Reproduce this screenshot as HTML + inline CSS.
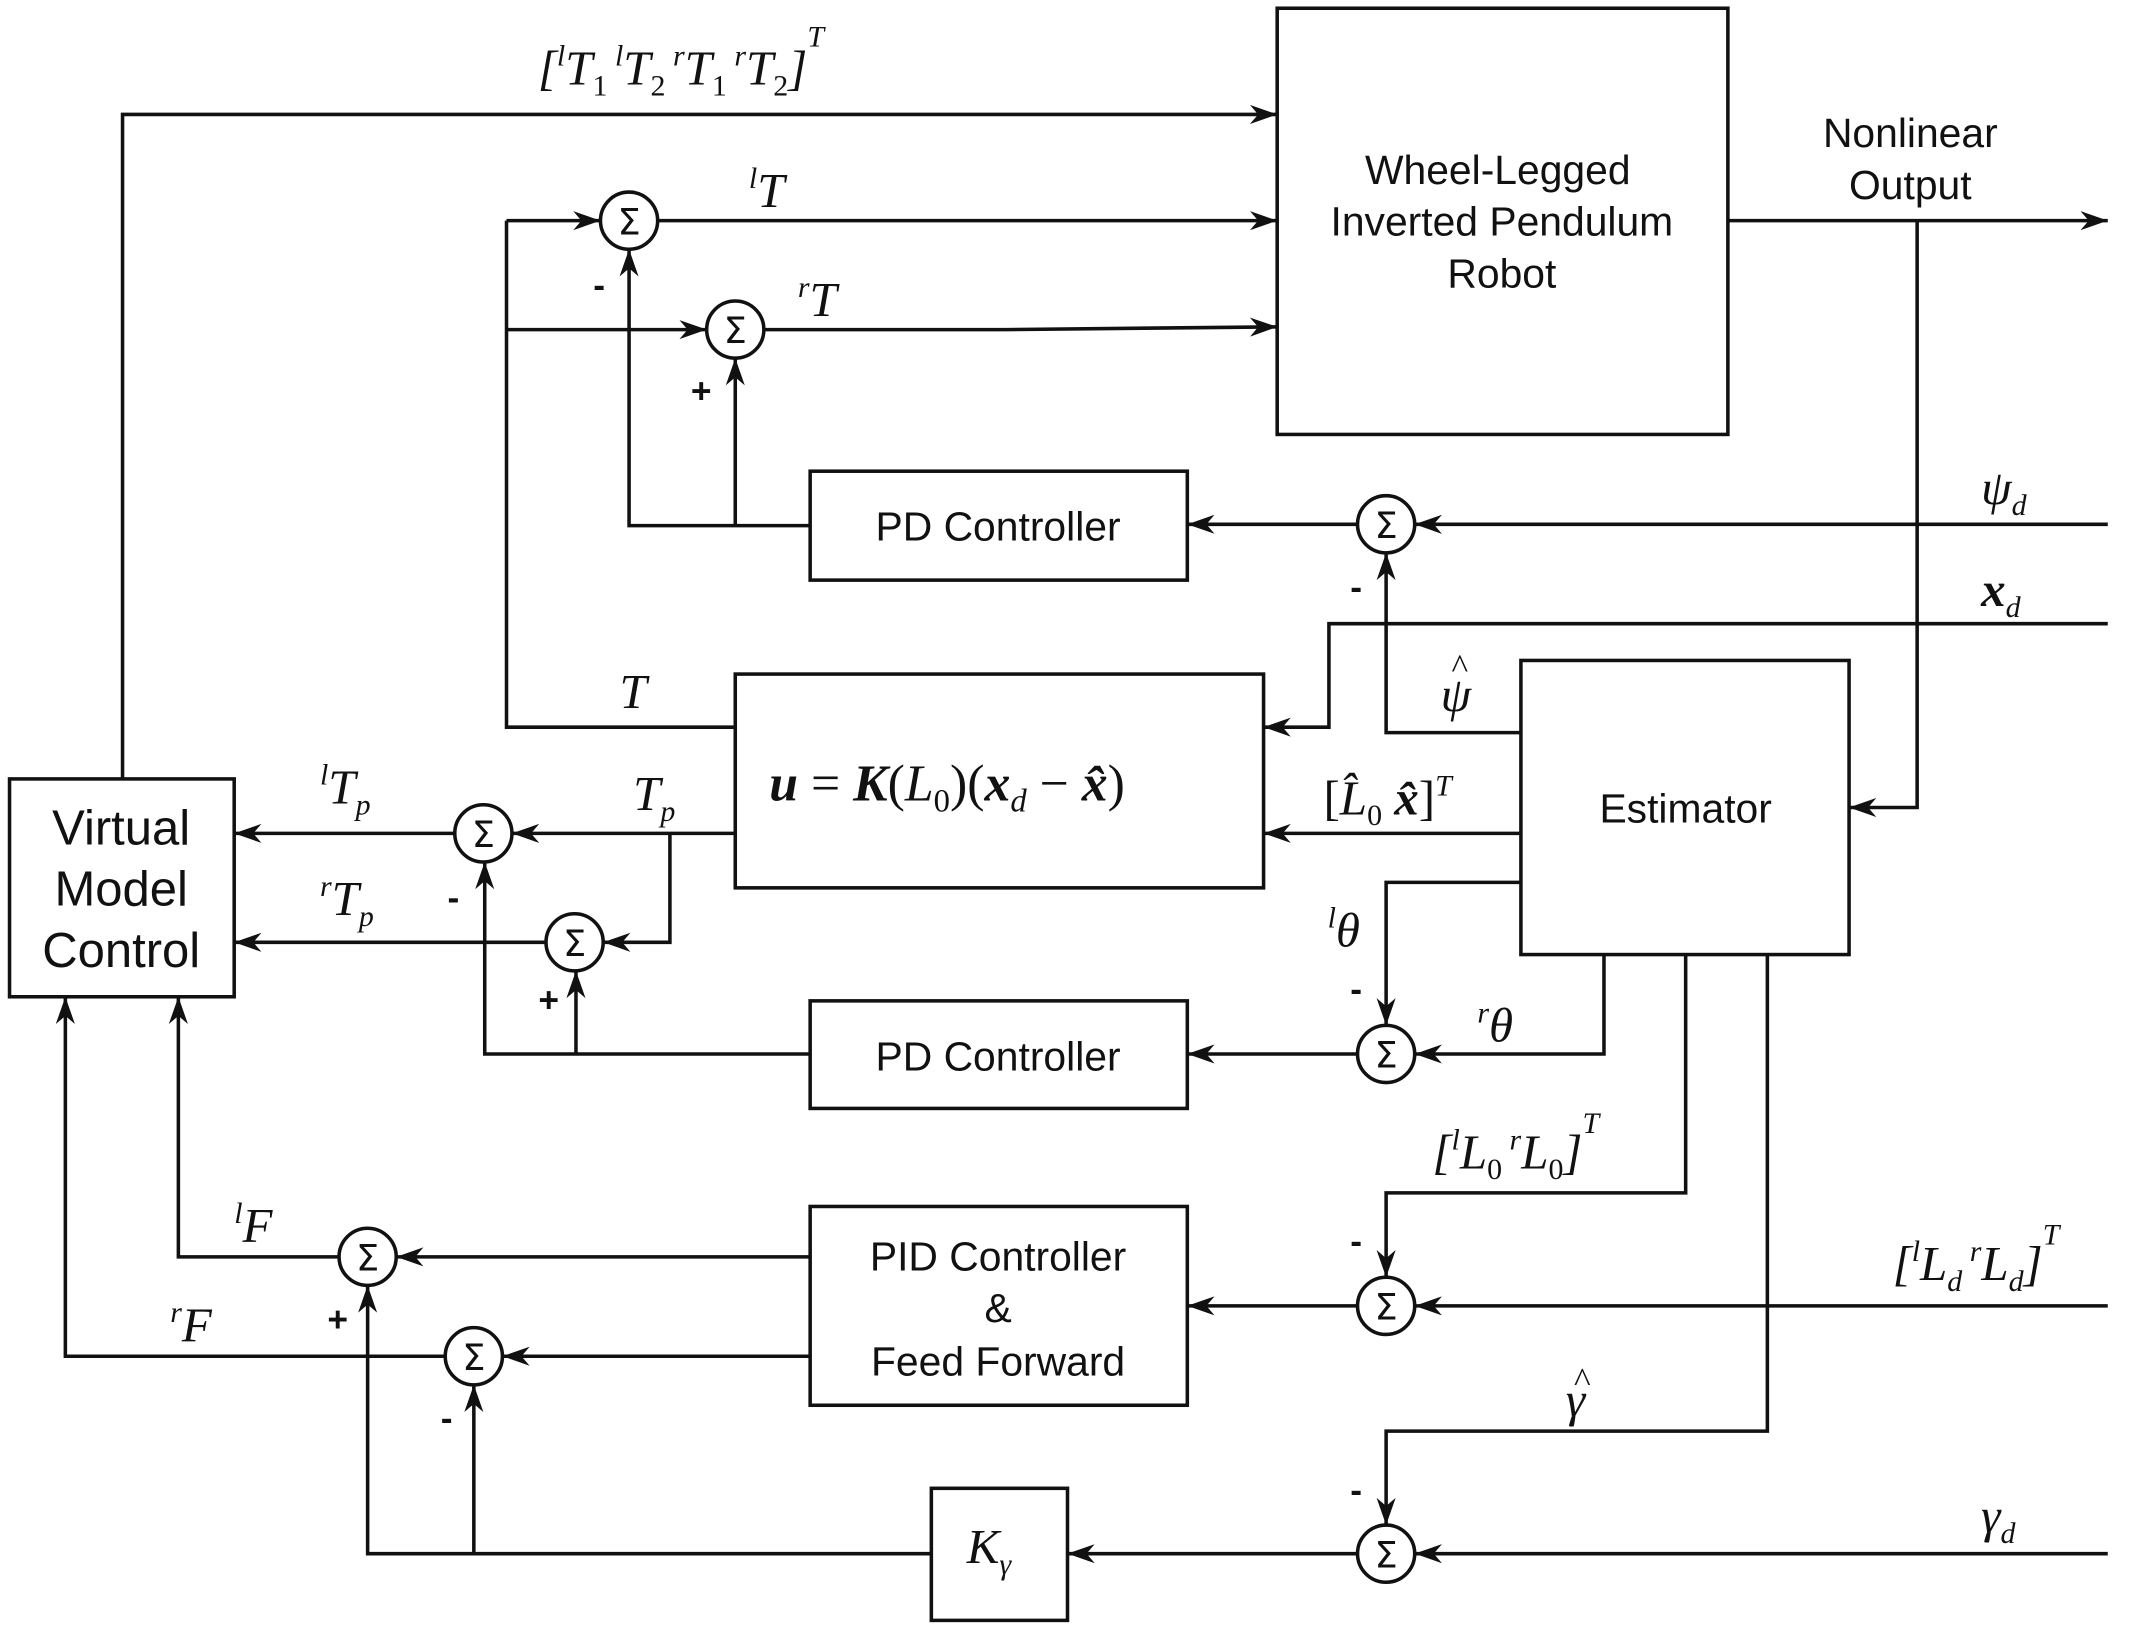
<!DOCTYPE html>
<html><head><meta charset="utf-8"><style>
html,body{margin:0;padding:0;background:#fff;}
svg{display:block;}
.s{font-family:"Liberation Sans",sans-serif;font-size:30px;fill:#111;}
.m{font-family:"Liberation Serif",serif;font-style:italic;font-size:36px;fill:#111;}
.p{font-family:"Liberation Sans",sans-serif;font-size:26px;font-weight:bold;fill:#111;}
.sg{font-family:"DejaVu Sans",sans-serif;font-size:27px;fill:#111;}
</style></head><body>
<svg width="2135" height="1630" viewBox="0 0 1568 1197" xmlns="http://www.w3.org/2000/svg">
<defs><marker id="a" viewBox="0 0 20 14" refX="20" refY="7" markerWidth="20" markerHeight="14" markerUnits="userSpaceOnUse" orient="auto"><path d="M0,0 L20,7 L0,14 L6,7 Z" fill="#111"/></marker></defs>
<g fill="none" stroke="#111" stroke-width="2.6">
<rect x="938" y="6" width="331" height="313"/>
<rect x="540" y="495" width="388" height="157"/>
<rect x="7" y="572" width="165" height="160"/>
<rect x="595" y="346" width="277" height="80"/>
<rect x="595" y="735" width="277" height="79"/>
<rect x="595" y="886" width="277" height="146"/>
<rect x="1117" y="485" width="241" height="216"/>
<rect x="684" y="1093" width="100" height="97"/>
<circle cx="462" cy="162" r="21"/><circle cx="540" cy="242" r="21"/>
<circle cx="1018" cy="385" r="21"/><circle cx="355" cy="612" r="21"/>
<circle cx="422" cy="692" r="21"/><circle cx="1018" cy="774" r="21"/>
<circle cx="1018" cy="959" r="21"/><circle cx="270" cy="923" r="21"/>
<circle cx="348" cy="996" r="21"/><circle cx="1018" cy="1141" r="21"/>
</g>
<g fill="none" stroke="#111" stroke-width="2.6" marker-end="url(#a)">
<path d="M90,572 V84 H938"/>
<path d="M372,162 H441"/>
<path d="M483,162 H938"/>
<path d="M372,242 H519"/>
<path d="M561,242 H738 L938,240"/>
<path d="M540,534 H372 V162" marker-end="none"/>
<path d="M595,386 H462 V183"/>
<path d="M540,386 V263"/>
<path d="M1548,385 H1039"/>
<path d="M997,385 H872"/>
<path d="M1117,538 H1018 V406"/>
<path d="M1548,458 H976 V534 H928"/>
<path d="M1269,162 H1548"/>
<path d="M1408,162 V593 H1358"/>
<path d="M1117,612 H928"/>
<path d="M540,612 H376"/>
<path d="M492,612 V692 H443"/>
<path d="M334,612 H172"/>
<path d="M401,692 H172"/>
<path d="M595,774 H356 V633"/>
<path d="M423,774 V713"/>
<path d="M1117,648 H1018 V753"/>
<path d="M1178,701 V774 H1039"/>
<path d="M997,774 H872"/>
<path d="M1238,701 V876 H1018 V938"/>
<path d="M1548,959 H1039"/>
<path d="M997,959 H872"/>
<path d="M595,923 H291"/>
<path d="M595,996 H369"/>
<path d="M249,923 H131 V732"/>
<path d="M327,996 H48 V732"/>
<path d="M1548,1141 H1039"/>
<path d="M1298,701 V1051 H1018 V1120"/>
<path d="M997,1141 H784"/>
<path d="M684,1141 H270 V944"/>
<path d="M348,1141 V1017"/>
</g>
<g class="sg" text-anchor="middle">
<text x="462" y="172">Σ</text><text x="540" y="252">Σ</text><text x="1018" y="395">Σ</text>
<text x="355" y="622">Σ</text><text x="422" y="702">Σ</text><text x="1018" y="784">Σ</text>
<text x="1018" y="969">Σ</text><text x="270" y="933">Σ</text><text x="348" y="1006">Σ</text>
<text x="1018" y="1151">Σ</text>
</g>
<g class="s" text-anchor="middle">
<text x="1100" y="135">Wheel-Legged</text>
<text x="1103" y="173">Inverted Pendulum</text>
<text x="1103" y="211">Robot</text>
<text x="1403" y="108">Nonlinear</text>
<text x="1403" y="146">Output</text>
<text x="733" y="397">PD Controller</text>
<text x="733" y="786">PD Controller</text>
<text x="733" y="933">PID Controller</text>
<text x="733" y="971">&amp;</text>
<text x="733" y="1010">Feed Forward</text>
<text x="1238" y="604">Estimator</text>
<text x="89" y="620" font-size="36">Virtual</text>
<text x="89" y="665" font-size="36">Model</text>
<text x="89" y="710" font-size="36">Control</text>
</g>
<g class="p" text-anchor="middle">
<text x="440" y="218">-</text><text x="515" y="296">+</text>
<text x="996" y="440">-</text><text x="333" y="668">-</text>
<text x="403" y="743">+</text><text x="996" y="735">-</text>
<text x="996" y="920">-</text><text x="248" y="978">+</text>
<text x="328" y="1050">-</text><text x="996" y="1103">-</text>
</g>
<g class="m">
<text x="395" y="62">[<tspan font-size="22" dy="-14">l</tspan><tspan dy="14">T</tspan><tspan font-size="22" font-style="normal" dy="8">1</tspan><tspan font-size="22" dy="-22"> l</tspan><tspan dy="14">T</tspan><tspan font-size="22" font-style="normal" dy="8">2</tspan><tspan font-size="22" dy="-22"> r</tspan><tspan dy="14">T</tspan><tspan font-size="22" font-style="normal" dy="8">1</tspan><tspan font-size="22" dy="-22"> r</tspan><tspan dy="14">T</tspan><tspan font-size="22" font-style="normal" dy="8">2</tspan><tspan dy="-8">]</tspan><tspan font-size="22" dy="-28">T</tspan></text>
<text x="550" y="152"><tspan font-size="22" dy="-14">l</tspan><tspan dy="14">T</tspan></text>
<text x="586" y="232"><tspan font-size="22" dy="-14">r</tspan><tspan dy="14">T</tspan></text>
<text x="455" y="520">T</text>
<text x="1455" y="370">ψ<tspan font-size="22" dy="8">d</tspan></text>
<text x="1455" y="445" font-weight="bold">x<tspan font-size="22" font-weight="normal" dy="8">d</tspan></text>
<text x="1058" y="522">ψ</text><text x="1066" y="498" font-style="normal" font-size="26">^</text>
<text x="972" y="598" font-style="normal">[<tspan font-style="italic">L̂</tspan><tspan font-size="22" dy="8">0</tspan><tspan dy="-8" font-style="italic" font-weight="bold"> x̂</tspan>]<tspan font-size="22" font-style="italic" dy="-14">T</tspan></text>
<text x="465" y="595">T<tspan font-size="22" dy="8">p</tspan></text>
<text x="235" y="590"><tspan font-size="22" dy="-14">l</tspan><tspan dy="14">T</tspan><tspan font-size="22" dy="8">p</tspan></text>
<text x="235" y="672"><tspan font-size="22" dy="-14">r</tspan><tspan dy="14">T</tspan><tspan font-size="22" dy="8">p</tspan></text>
<text x="975" y="695"><tspan font-size="22" dy="-14">l</tspan><tspan dy="14">θ</tspan></text>
<text x="1085" y="765"><tspan font-size="22" dy="-14">r</tspan><tspan dy="14">θ</tspan></text>
<text x="1052" y="858">[<tspan font-size="22" dy="-14">l</tspan><tspan dy="14">L</tspan><tspan font-size="22" font-style="normal" dy="8">0</tspan><tspan font-size="22" dy="-22"> r</tspan><tspan dy="14">L</tspan><tspan font-size="22" font-style="normal" dy="8">0</tspan><tspan dy="-8">]</tspan><tspan font-size="22" dy="-26">T</tspan></text>
<text x="1390" y="940">[<tspan font-size="22" dy="-14">l</tspan><tspan dy="14">L</tspan><tspan font-size="22" dy="8">d</tspan><tspan font-size="22" dy="-22"> r</tspan><tspan dy="14">L</tspan><tspan font-size="22" dy="8">d</tspan><tspan dy="-8">]</tspan><tspan font-size="22" dy="-26">T</tspan></text>
<text x="172" y="912"><tspan font-size="22" dy="-14">l</tspan><tspan dy="14">F</tspan></text>
<text x="125" y="985"><tspan font-size="22" dy="-14">r</tspan><tspan dy="14">F</tspan></text>
<text x="1150" y="1040">γ</text><text x="1156" y="1022" font-style="normal" font-size="26">^</text>
<text x="1455" y="1125">γ<tspan font-size="22" dy="8">d</tspan></text>
<text x="710" y="1148">K<tspan font-size="22" dy="8">γ</tspan></text>
<text x="565" y="588" font-weight="bold" font-size="38">u <tspan font-weight="normal" font-style="normal">=</tspan> K<tspan font-weight="normal" font-style="normal">(</tspan><tspan font-weight="normal">L</tspan><tspan font-weight="normal" font-style="normal" font-size="24" dy="8">0</tspan><tspan font-weight="normal" font-style="normal" dy="-8">)(</tspan>x<tspan font-weight="normal" font-size="24" dy="8">d</tspan><tspan font-weight="normal" font-style="normal" dy="-8"> − </tspan>x̂<tspan font-weight="normal" font-style="normal">)</tspan></text>
</g>
</svg>
</body></html>
